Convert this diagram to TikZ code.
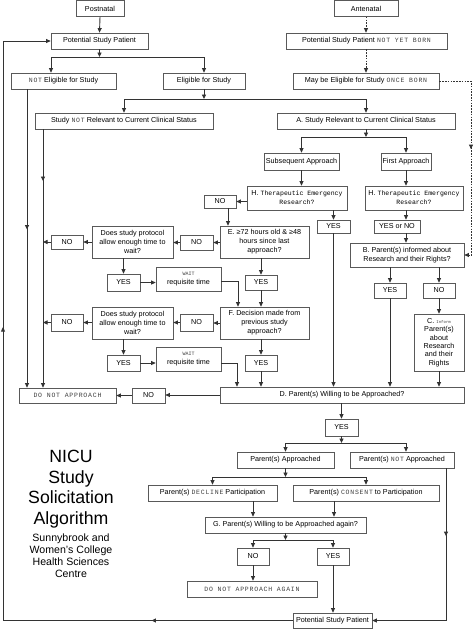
\documentclass[tikz,border=0pt]{standalone}
\usepackage{fontspec}
\setmainfont{Liberation Sans}
\newfontfamily\mymono{Liberation Mono}
\newfontfamily\mymonosp[LetterSpace=12]{Liberation Mono}
\usetikzlibrary{arrows.meta,decorations.markings}
\newcommand{\mt}[1]{{\color{black!75}\mymonosp\fontsize{6.5}{8}\selectfont #1}}
\newcommand{\mtt}[1]{{\mymono\fontsize{6.5}{8}\selectfont #1}}
\newcommand{\mtw}[1]{{\color{black!75}\mymono\fontsize{5}{7}\selectfont #1}}
\newcommand{\mti}[1]{{\color{black!75}\mymono\fontsize{4}{6}\selectfont #1}}
\begin{document}
\begin{tikzpicture}[x=1pt,y=-1pt,
 box/.style={draw=black!65, line width=0.7pt, fill=white, inner sep=0pt, align=center, font=\fontsize{7.2}{9}\selectfont},
 ln/.style={draw=black!80, line width=0.9pt},
 arr/.style={ln, -{Triangle[length=4.5pt,width=4pt]}},
 dsh/.style={draw=black!80, line width=0.9pt, dash pattern=on 1.6pt off 1.2pt, -{Triangle[length=4.5pt,width=4pt]}},
 mid/.style={postaction={decorate}, decoration={markings, mark=at position #1 with {\arrow{Triangle[length=4.5pt,width=4pt]}}}},
 midtwo/.style 2 args={postaction={decorate}, decoration={markings, mark=at position #1 with {\arrow{Triangle[length=4.5pt,width=4pt]}}, mark=at position #2 with {\arrow{Triangle[length=4.5pt,width=4pt]}}}},
]
\useasboundingbox (0,0) rectangle (474,630);
\fill[white] (0,0) rectangle (474,630);

% nodes
\node[box,minimum width=48,minimum height=16] (post) at (100,8.5) {Postnatal};
\node[box,minimum width=64,minimum height=16] (ante) at (366,8.5) {Antenatal};
\node[box,minimum width=97,minimum height=16] (pspL) at (99.5,41) {Potential Study Patient};
\node[box,minimum width=161,minimum height=16] (pspR) at (366.5,41) {Potential Study Patient \mt{NOT YET BORN}};
\node[box,minimum width=105,minimum height=16] (notElig) at (63.5,81) {\mt{NOT} Eligible for Study};
\node[box,minimum width=82,minimum height=16] (elig) at (204,81) {Eligible for Study};
\node[box,minimum width=146,minimum height=16] (maybe) at (366,81) {May be Eligible for Study \mt{ONCE BORN}};
\node[box,minimum width=178,minimum height=16] (notRel) at (124,121) {Study \mt{NOT} Relevant to Current Clinical Status};
\node[box,minimum width=178,minimum height=16] (relA) at (366,121) {A. Study Relevant to Current Clinical Status};
\node[box,minimum width=75,minimum height=17] (subseq) at (301.5,161.5) {Subsequent Approach};
\node[box,minimum width=50,minimum height=17] (first) at (406,161.5) {First Approach};
\node[box,minimum width=100,minimum height=24] (hL) at (297,198) {H. \mtt{Therapeutic Emergency}\\\mtt{Research?}};
\node[box,minimum width=98,minimum height=24] (hR) at (414,198) {H. \mtt{Therapeutic Emergency}\\\mtt{Research?}};
\node[box,minimum width=32,minimum height=13] (noH) at (220,201.5) {NO};
\node[box,minimum width=33,minimum height=13] (yesH) at (333.5,226.5) {YES};
\node[box,minimum width=46,minimum height=13] (yesno) at (397,226.5) {YES or NO};
\node[box,minimum width=89,minimum height=32] (E) at (264.5,242) {E. ≥72 hours old \& ≥48\\hours since last\\approach?};
\node[box,minimum width=33,minimum height=15] (noE) at (196.5,242.5) {NO};
\node[box,minimum width=81,minimum height=32] (doesE) at (132.5,242) {Does study protocol\\allow enough time to\\wait?};
\node[box,minimum width=32,minimum height=14] (noE2) at (67,242) {NO};
\node[box,minimum width=114,minimum height=24] (B) at (407,255) {B. Parent(s) informed about\\Research and their Rights?};
\node[box,minimum width=32,minimum height=15] (yesE) at (261,282.5) {YES};
\node[box,minimum width=33,minimum height=17] (yesD1) at (123.5,282.5) {YES};
\node[box,minimum width=65,minimum height=24] (wait1) at (188.5,279) {\mtw{WAIT}\\requisite time};
\node[box,minimum width=32,minimum height=15] (yesB) at (390,290.5) {YES};
\node[box,minimum width=32,minimum height=15] (noB) at (439,290.5) {NO};
\node[box,minimum width=89,minimum height=32] (F) at (264.5,323) {F. Decision made from\\previous study\\approach?};
\node[box,minimum width=33,minimum height=17] (noF) at (196.5,322.5) {NO};
\node[box,minimum width=81,minimum height=32] (doesF) at (132.5,323) {Does study protocol\\allow enough time to\\wait?};
\node[box,minimum width=32,minimum height=17] (noF2) at (67,322.5) {NO};
\node[box,minimum width=50,minimum height=57,font=\fontsize{7.2}{8.4}\selectfont] (C) at (439,342.5) {C. \mti{Inform}\\Parent(s)\\about\\Research\\and their\\Rights};
\node[box,minimum width=32,minimum height=16] (yesF) at (261,363) {YES};
\node[box,minimum width=33,minimum height=16] (yesD2) at (123.5,363) {YES};
\node[box,minimum width=65,minimum height=24] (wait2) at (188.5,359) {\mtw{WAIT}\\requisite time};
\node[box,minimum width=244,minimum height=16] (D) at (342,395) {D. Parent(s) Willing to be Approached?};
\node[box,minimum width=33,minimum height=15] (noD) at (148.5,395.5) {NO};
\node[box,minimum width=97,minimum height=15] (dna) at (67.5,395.5) {\mt{DO NOT APPROACH}};
\node[box,minimum width=33,minimum height=17] (yesD) at (341.5,427.5) {YES};
\node[box,minimum width=97,minimum height=16] (appr) at (285.5,460) {Parent(s) Approached};
\node[box,minimum width=104,minimum height=16] (notAppr) at (402,460) {Parent(s) \mt{NOT} Approached};
\node[box,minimum width=129,minimum height=16] (decline) at (212.5,493) {Parent(s) \mt{DECLINE} Participation};
\node[box,minimum width=146,minimum height=16] (consent) at (366,493) {Parent(s) \mt{CONSENT} to Participation};
\node[box,minimum width=161,minimum height=16] (G) at (285.5,525) {G. Parent(s) Willing to be Approached again?};
\node[box,minimum width=32,minimum height=17] (noG) at (253,556.5) {NO};
\node[box,minimum width=32,minimum height=17] (yesG) at (333,556.5) {YES};
\node[box,minimum width=130,minimum height=16] (dnaa) at (252,589) {\mt{DO NOT APPROACH AGAIN}};
\node[box,minimum width=79,minimum height=15] (pspB) at (332.5,620.5) {Potential Study Patient};

\node[align=center, font=\fontsize{17.7}{20.7}\selectfont] (title) at (71,489) {NICU\\Study\\Solicitation\\Algorithm};
\node[align=center, font=\fontsize{10.6}{12}\selectfont] (sub) at (71,555.5) {Sunnybrook and\\Women's College\\Health Sciences\\Centre};

% junction coordinates
\coordinate (j1) at (99.5,57);
\coordinate (j2) at (204,99);
\coordinate (j3) at (366,137);
\coordinate (j4) at (341.5,443);
\coordinate (j5) at (285.5,477);
\coordinate (j6) at (285.5,540);
\coordinate (nE) at ([xshift=-36.5pt]notElig.south);
\coordinate (nR) at ([xshift=-81pt]notRel.south);
\coordinate (nH) at ([xshift=8pt]noH.south);
\coordinate (w1) at ([yshift=-2pt]wait1.east);
\coordinate (w2) at ([yshift=-4pt]wait2.east);
\coordinate (dG) at ([xshift=40.5pt]decline.south);
\coordinate (cG) at ([xshift=-32pt]consent.south);
\coordinate (nA) at ([xshift=44pt]notAppr.south);
\coordinate (lb) at (3,620.5);
\coordinate (lt) at (3,41);
\coordinate (dr) at (471,81);

% connectors
\draw[arr] (post.south) -- (pspL.north);
\draw[dsh] (ante.south) -- (ante.south |- pspR.north);
\draw[dsh] (ante.south |- pspR.south) -- (maybe.north);
\draw[dsh, mid=0.47] (maybe.east) -- (dr) |- (B.east);

\draw[arr] (pspL.south) -- (j1);
\draw[arr] (j1) -| ([xshift=-12.5pt]notElig.north);
\draw[arr] (j1) -| (elig.north);
\draw[arr] (elig.south) -- (j2);
\draw[arr] (j2) -| (notRel.north);
\draw[arr] (j2) -| (relA.north);
\draw[arr, mid=0.47] (nE) -- (nE |- dna.north);
\draw[arr, mid=0.2] (nR) -- (nR |- dna.north);

\draw[arr] (relA.south) -- (j3);
\draw[arr] (j3) -| (subseq.north);
\draw[arr] (j3) -| (first.north);
\draw[arr] (subseq.south) -- (subseq.south |- hL.north);
\draw[arr] (first.south) -- (first.south |- hR.north);
\draw[arr] (noH.east -| hL.west) -- (noH.east);
\draw[arr] (nH) -- (nH |- E.north);
\draw[arr] (yesH.north |- hL.south) -- (yesH.north);
\draw[arr] (yesH.south) -- (yesH.south |- D.north);
\draw[arr] (first.south |- hR.south) -- (first.south |- yesno.north);
\draw[arr] (first.south |- yesno.south) -- (first.south |- B.north);
\draw[arr] (yesB.north |- B.south) -- (yesB.north);
\draw[arr] (noB.north |- B.south) -- (noB.north);
\draw[arr] (yesB.south) -- (yesB.south |- D.north);
\draw[arr] (noB.south) -- (C.north);
\draw[arr] (C.south) -- (C.south |- D.north);

\draw[arr] (noE.east -| E.west) -- (noE.east);
\draw[arr] (noE.west) -- (noE.west -| doesE.east);
\draw[arr] (noE2.east -| doesE.west) -- (noE2.east);
\draw[arr] (noE2.west) -- (noE2.west -| nR);
\draw[arr] (yesE.north |- E.south) -- (yesE.north);
\draw[arr] (yesE.south) -- (yesE.south |- F.north);
\draw[arr] (yesD1.north |- doesE.south) -- (yesD1.north);
\draw[arr] (yesD1.east) -- (yesD1.east -| wait1.west);
\draw[arr] (w1) -| ([xshift=-26.5pt]F.north);

\draw[arr] (F.west) -- (F.west -| noF.east);
\draw[arr] (noF.west) -- (noF.west -| doesF.east);
\draw[arr] (noF2.east -| doesF.west) -- (noF2.east);
\draw[arr] (noF2.west) -- (noF2.west -| nR);
\draw[arr] (yesF.north |- F.south) -- (yesF.north);
\draw[arr] (yesF.south) -- (yesF.south |- D.north);
\draw[arr] (yesD2.north |- doesF.south) -- (yesD2.north);
\draw[arr] (yesD2.east) -- (yesD2.east -| wait2.west);
\draw[arr] (w2) -| ([xshift=-105pt]D.north);

\draw[arr] (D.west) -- (D.west -| noD.east);
\draw[arr] (noD.west) -- (noD.west -| dna.east);
\draw[arr] (yesD.north |- D.south) -- (yesD.north);
\draw[arr] (yesD.south) -- (j4);
\draw[arr] (j4) -| (appr.north);
\draw[arr] (j4) -| ([xshift=4pt]notAppr.north);
\draw[arr] (appr.south) -- (j5);
\draw[arr] (j5) -| (decline.north);
\draw[arr] (j5) -| (consent.north);
\draw[arr] (dG) -- (dG |- G.north);
\draw[arr] (cG) -- (cG |- G.north);
\draw[arr] (G.south) -- (j6);
\draw[arr] (j6) -| (noG.north);
\draw[arr] (j6) -| (yesG.north);
\draw[arr] (noG.south) -- (noG.south |- dnaa.north);
\draw[arr] (yesG.south) -- (yesG.south |- pspB.north);
\draw[arr, mid=0.3] (nA) |- (pspB.east);
\draw[arr, midtwo={0.154}{0.636}] (pspB.west) -- (lb) -- (lt) -- (pspL.west);
\end{tikzpicture}
\end{document}
